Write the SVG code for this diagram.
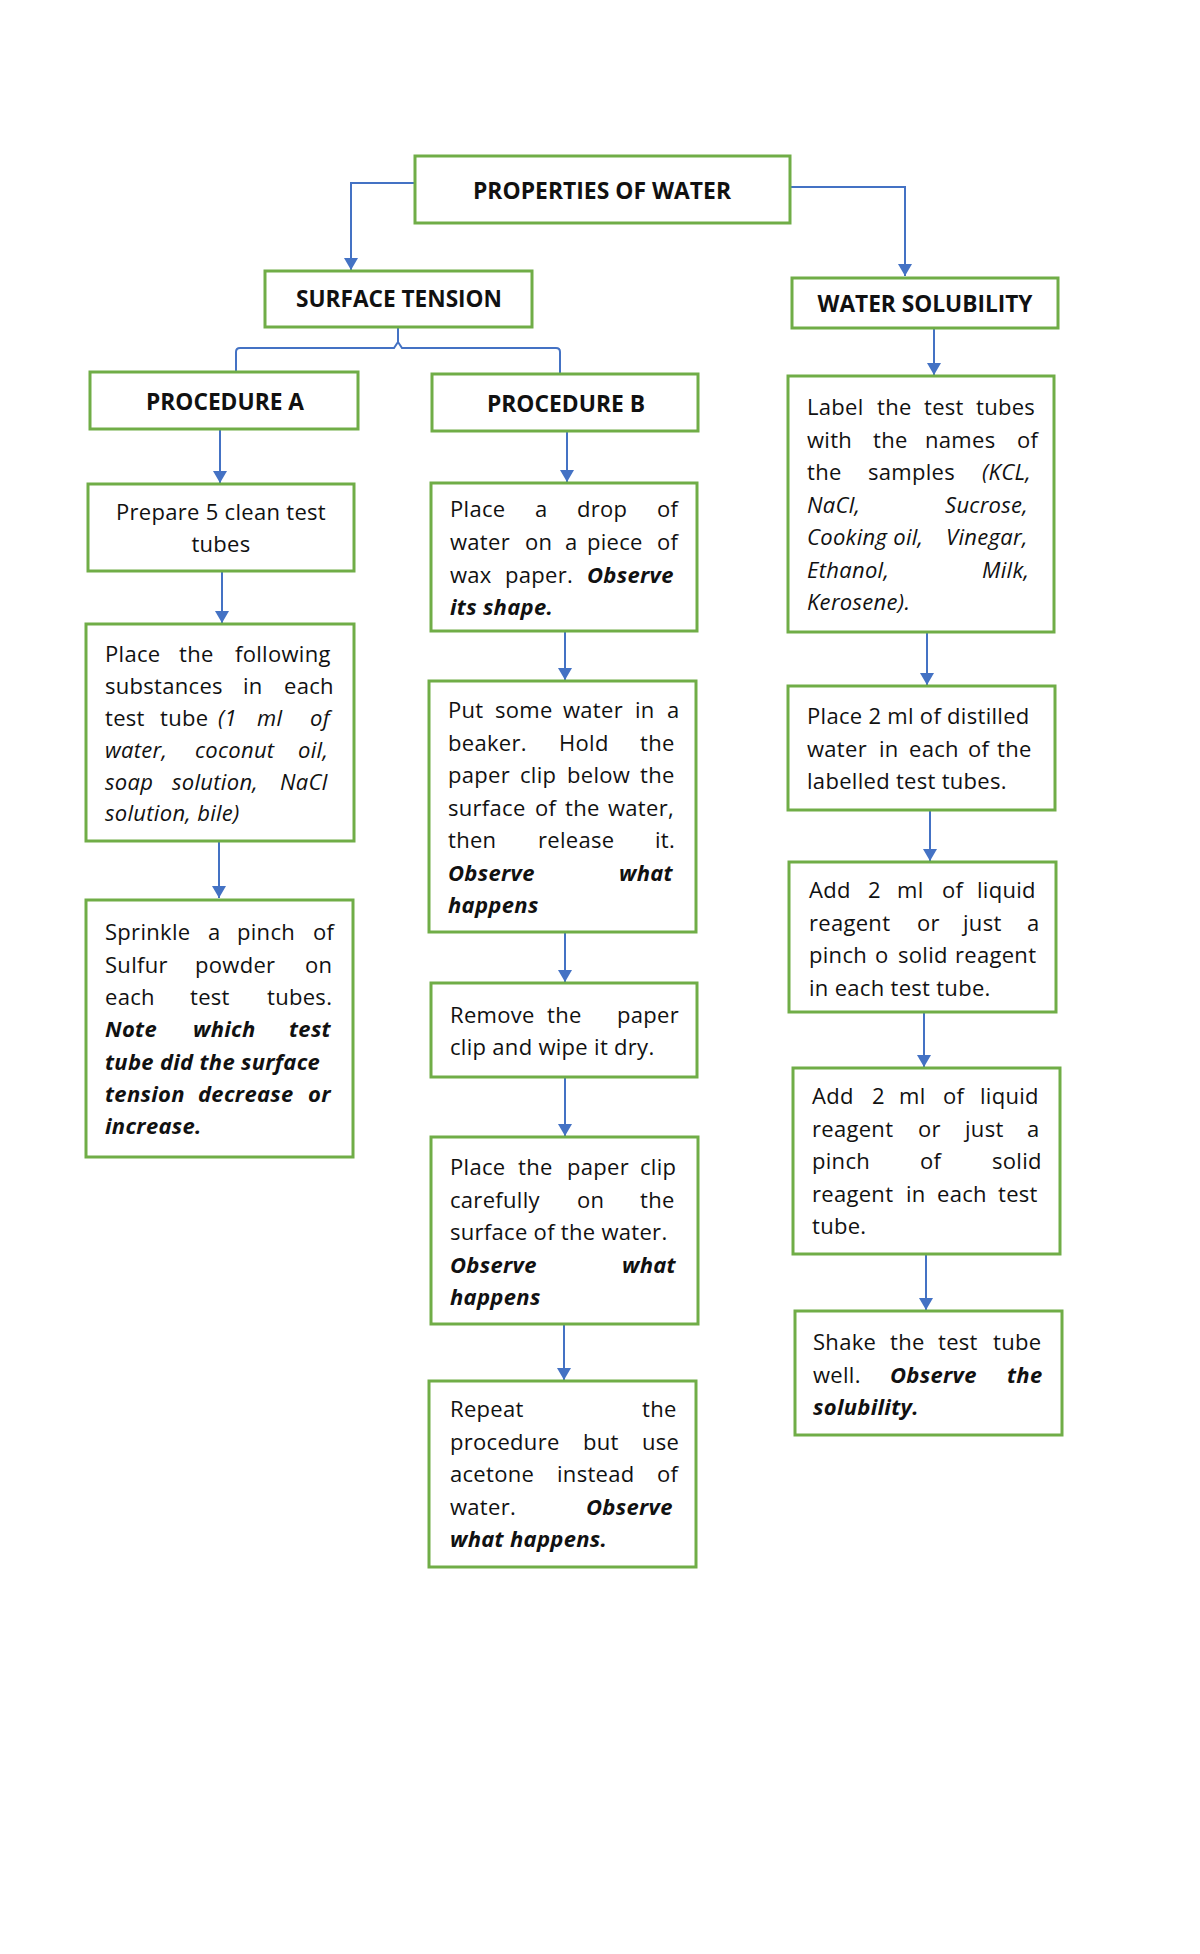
<svg xmlns="http://www.w3.org/2000/svg" width="1200" height="1954" viewBox="0 0 1200 1954">
<style>
.box{fill:#fff;stroke:#70AD47;stroke-width:3}
.t{font-family:"Open Sans","Lato",sans-serif;font-size:22px;fill:#111;letter-spacing:0.3px}
.i{font-style:italic}
.bi{font-style:italic;font-weight:bold}
.title{font-family:"Open Sans","Lato",sans-serif;font-size:24px;font-weight:bold;fill:#111;text-anchor:middle}
.c{fill:none;stroke:#4472C4;stroke-width:2}
</style>
<defs>
<marker id="ah" markerUnits="userSpaceOnUse" markerWidth="14" markerHeight="14" refX="12" refY="7" orient="auto">
<path d="M0,0 L12,7 L0,14 z" fill="#4472C4"/>
</marker>
</defs>
<rect width="1200" height="1954" fill="#fff"/>
<g id="connectors">
<path class="c" d="M415,183 H351 V270" marker-end="url(#ah)"/>
<path class="c" d="M790,187 H905 V276" marker-end="url(#ah)"/>
<path class="c" d="M398,327 V342 L402,348 H556 Q560,348 560,352 V374"/>
<path class="c" d="M398,342 L394,348 H240 Q236,348 236,352 V372"/>
<path class="c" d="M220,429 V483" marker-end="url(#ah)"/>
<path class="c" d="M222,571 V623" marker-end="url(#ah)"/>
<path class="c" d="M219,841 V898" marker-end="url(#ah)"/>
<path class="c" d="M567,431 V482" marker-end="url(#ah)"/>
<path class="c" d="M565,631 V680" marker-end="url(#ah)"/>
<path class="c" d="M565,932 V982" marker-end="url(#ah)"/>
<path class="c" d="M565,1077 V1136" marker-end="url(#ah)"/>
<path class="c" d="M564,1324 V1380" marker-end="url(#ah)"/>
<path class="c" d="M934,328 V375" marker-end="url(#ah)"/>
<path class="c" d="M927,632 V685" marker-end="url(#ah)"/>
<path class="c" d="M930,810 V861" marker-end="url(#ah)"/>
<path class="c" d="M924,1012 V1067" marker-end="url(#ah)"/>
<path class="c" d="M926,1254 V1310" marker-end="url(#ah)"/>
</g>
<g id="n-properties">
<rect class="box" x="415" y="156" width="375" height="67"/>
<text class="title" x="602" y="199" textLength="258" lengthAdjust="spacingAndGlyphs">PROPERTIES OF WATER</text>
</g>
<g id="n-surface">
<rect class="box" x="265" y="271" width="267" height="56"/>
<text class="title" x="399" y="307" textLength="206" lengthAdjust="spacingAndGlyphs">SURFACE TENSION</text>
</g>
<g id="n-solubility">
<rect class="box" x="792" y="278" width="266" height="50"/>
<text class="title" x="925" y="312" textLength="215" lengthAdjust="spacingAndGlyphs">WATER SOLUBILITY</text>
</g>
<g id="n-procA">
<rect class="box" x="90" y="372" width="268" height="57"/>
<text class="title" x="225" y="410" textLength="158" lengthAdjust="spacingAndGlyphs">PROCEDURE A</text>
</g>
<g id="n-procB">
<rect class="box" x="432" y="374" width="266" height="57"/>
<text class="title" x="566" y="412" textLength="158" lengthAdjust="spacingAndGlyphs">PROCEDURE B</text>
</g>
<g id="n-prepare">
<rect class="box" x="88" y="484" width="266" height="87"/>
<text class="t" text-anchor="middle"><tspan x="221" y="520">Prepare 5 clean test</tspan><tspan x="221" y="552">tubes</tspan></text>
</g>
<g id="n-place-following">
<rect class="box" x="86" y="624" width="268" height="217"/>
<text class="t">
<tspan x="105" y="662">Place</tspan><tspan x="179" y="662">the</tspan><tspan x="235" y="662">following</tspan>
<tspan x="105" y="694">substances</tspan><tspan x="243" y="694">in</tspan><tspan x="284" y="694">each</tspan>
<tspan x="105" y="726">test</tspan><tspan x="160" y="726">tube</tspan><tspan class="i" x="218" y="726">(1</tspan><tspan class="i" x="257" y="726">ml</tspan><tspan class="i" x="310" y="726">of</tspan>
<tspan class="i" x="105" y="757.5">water,</tspan><tspan class="i" x="195" y="757.5">coconut</tspan><tspan class="i" x="298" y="757.5">oil,</tspan>
<tspan class="i" x="105" y="789.5">soap</tspan><tspan class="i" x="172" y="789.5">solution,</tspan><tspan class="i" x="280" y="789.5">NaCl</tspan>
<tspan class="i" x="105" y="821">solution, bile)</tspan>
</text>
</g>
<g id="n-sprinkle">
<rect class="box" x="86" y="900" width="267" height="257"/>
<text class="t">
<tspan x="105" y="940">Sprinkle</tspan><tspan x="208" y="940">a</tspan><tspan x="237" y="940">pinch</tspan><tspan x="313" y="940">of</tspan>
<tspan x="105" y="972.5">Sulfur</tspan><tspan x="195" y="972.5">powder</tspan><tspan x="305" y="972.5">on</tspan>
<tspan x="105" y="1005">each</tspan><tspan x="190" y="1005">test</tspan><tspan x="267" y="1005">tubes.</tspan>
<tspan class="bi" x="105" y="1037">Note</tspan><tspan class="bi" x="193" y="1037">which</tspan><tspan class="bi" x="289" y="1037">test</tspan>
<tspan class="bi" x="105" y="1069.5">tube did the surface</tspan>
<tspan class="bi" x="105" y="1101.5">tension</tspan><tspan class="bi" x="198" y="1101.5">decrease</tspan><tspan class="bi" x="308" y="1101.5">or</tspan>
<tspan class="bi" x="105" y="1134">increase.</tspan>
</text>
</g>
<g id="n-drop">
<rect class="box" x="431" y="483" width="266" height="148"/>
<text class="t">
<tspan x="450" y="517">Place</tspan><tspan x="535" y="517">a</tspan><tspan x="577" y="517">drop</tspan><tspan x="657" y="517">of</tspan>
<tspan x="450" y="550">water</tspan><tspan x="525" y="550">on</tspan><tspan x="565" y="550">a</tspan><tspan x="587" y="550">piece</tspan><tspan x="657" y="550">of</tspan>
<tspan x="450" y="582.5">wax</tspan><tspan x="505" y="582.5">paper.</tspan><tspan class="bi" x="587" y="582.5">Observe</tspan>
<tspan class="bi" x="450" y="615">its shape.</tspan>
</text>
</g>
<g id="n-put">
<rect class="box" x="429" y="681" width="267" height="251"/>
<text class="t">
<tspan x="448" y="718">Put</tspan><tspan x="495" y="718">some</tspan><tspan x="563" y="718">water</tspan><tspan x="635" y="718">in</tspan><tspan x="667" y="718">a</tspan>
<tspan x="448" y="750.5">beaker.</tspan><tspan x="559" y="750.5">Hold</tspan><tspan x="640" y="750.5">the</tspan>
<tspan x="448" y="783">paper</tspan><tspan x="520" y="783">clip</tspan><tspan x="567" y="783">below</tspan><tspan x="640" y="783">the</tspan>
<tspan x="448" y="815.5">surface</tspan><tspan x="535" y="815.5">of</tspan><tspan x="565" y="815.5">the</tspan><tspan x="608" y="815.5">water,</tspan>
<tspan x="448" y="848">then</tspan><tspan x="538" y="848">release</tspan><tspan x="655" y="848">it.</tspan>
<tspan class="bi" x="448" y="880.5">Observe</tspan><tspan class="bi" x="619" y="880.5">what</tspan>
<tspan class="bi" x="448" y="913">happens</tspan>
</text>
</g>
<g id="n-remove">
<rect class="box" x="431" y="983" width="266" height="94"/>
<text class="t">
<tspan x="450" y="1023">Remove</tspan><tspan x="547" y="1023">the</tspan><tspan x="617" y="1023">paper</tspan>
<tspan x="450" y="1055">clip and wipe it dry.</tspan>
</text>
</g>
<g id="n-clip">
<rect class="box" x="431" y="1137" width="267" height="187"/>
<text class="t">
<tspan x="450" y="1175">Place</tspan><tspan x="518" y="1175">the</tspan><tspan x="567" y="1175">paper</tspan><tspan x="640" y="1175">clip</tspan>
<tspan x="450" y="1207.5">carefully</tspan><tspan x="577" y="1207.5">on</tspan><tspan x="640" y="1207.5">the</tspan>
<tspan x="450" y="1240">surface of the water.</tspan>
<tspan class="bi" x="450" y="1272.5">Observe</tspan><tspan class="bi" x="622" y="1272.5">what</tspan>
<tspan class="bi" x="450" y="1305">happens</tspan>
</text>
</g>
<g id="n-repeat">
<rect class="box" x="429" y="1381" width="267" height="186"/>
<text class="t">
<tspan x="450" y="1417">Repeat</tspan><tspan x="642" y="1417">the</tspan>
<tspan x="450" y="1449.5">procedure</tspan><tspan x="583" y="1449.5">but</tspan><tspan x="642" y="1449.5">use</tspan>
<tspan x="450" y="1482">acetone</tspan><tspan x="557" y="1482">instead</tspan><tspan x="657" y="1482">of</tspan>
<tspan x="450" y="1514.5">water.</tspan><tspan class="bi" x="586" y="1514.5">Observe</tspan>
<tspan class="bi" x="450" y="1547">what happens.</tspan>
</text>
</g>
<g id="n-label">
<rect class="box" x="788" y="376" width="266" height="256"/>
<text class="t">
<tspan x="807" y="415">Label</tspan><tspan x="877" y="415">the</tspan><tspan x="924" y="415">test</tspan><tspan x="976" y="415">tubes</tspan>
<tspan x="807" y="447.5">with</tspan><tspan x="873" y="447.5">the</tspan><tspan x="925" y="447.5">names</tspan><tspan x="1017" y="447.5">of</tspan>
<tspan x="807" y="480">the</tspan><tspan x="868" y="480">samples</tspan><tspan class="i" x="982" y="480">(KCL,</tspan>
<tspan class="i" x="807" y="512.5">NaCl,</tspan><tspan class="i" x="945" y="512.5">Sucrose,</tspan>
<tspan class="i" x="807" y="545">Cooking oil,</tspan><tspan class="i" x="946" y="545">Vinegar,</tspan>
<tspan class="i" x="807" y="577.5">Ethanol,</tspan><tspan class="i" x="982" y="577.5">Milk,</tspan>
<tspan class="i" x="807" y="610">Kerosene).</tspan>
</text>
</g>
<g id="n-place2">
<rect class="box" x="788" y="686" width="267" height="124"/>
<text class="t">
<tspan x="807" y="724">Place 2 ml of distilled</tspan>
<tspan x="807" y="756.5">water</tspan><tspan x="879" y="756.5">in</tspan><tspan x="909" y="756.5">each</tspan><tspan x="968" y="756.5">of</tspan><tspan x="997" y="756.5">the</tspan>
<tspan x="807" y="789">labelled test tubes.</tspan>
</text>
</g>
<g id="n-add1">
<rect class="box" x="789" y="862" width="267" height="150"/>
<text class="t">
<tspan x="809" y="898">Add</tspan><tspan x="868" y="898">2</tspan><tspan x="897" y="898">ml</tspan><tspan x="942" y="898">of</tspan><tspan x="977" y="898">liquid</tspan>
<tspan x="809" y="930.5">reagent</tspan><tspan x="917" y="930.5">or</tspan><tspan x="963" y="930.5">just</tspan><tspan x="1027" y="930.5">a</tspan>
<tspan x="809" y="963">pinch</tspan><tspan x="875" y="963">o</tspan><tspan x="898" y="963">solid</tspan><tspan x="955" y="963">reagent</tspan>
<tspan x="809" y="995.5">in each test tube.</tspan>
</text>
</g>
<g id="n-add2">
<rect class="box" x="793" y="1068" width="267" height="186"/>
<text class="t">
<tspan x="812" y="1104">Add</tspan><tspan x="872" y="1104">2</tspan><tspan x="899" y="1104">ml</tspan><tspan x="943" y="1104">of</tspan><tspan x="980" y="1104">liquid</tspan>
<tspan x="812" y="1136.5">reagent</tspan><tspan x="918" y="1136.5">or</tspan><tspan x="965" y="1136.5">just</tspan><tspan x="1027" y="1136.5">a</tspan>
<tspan x="812" y="1169">pinch</tspan><tspan x="920" y="1169">of</tspan><tspan x="992" y="1169">solid</tspan>
<tspan x="812" y="1201.5">reagent</tspan><tspan x="906" y="1201.5">in</tspan><tspan x="937" y="1201.5">each</tspan><tspan x="998" y="1201.5">test</tspan>
<tspan x="812" y="1234">tube.</tspan>
</text>
</g>
<g id="n-shake">
<rect class="box" x="795" y="1311" width="267" height="124"/>
<text class="t">
<tspan x="813" y="1350">Shake</tspan><tspan x="890" y="1350">the</tspan><tspan x="938" y="1350">test</tspan><tspan x="993" y="1350">tube</tspan>
<tspan x="813" y="1382.5">well.</tspan><tspan class="bi" x="890" y="1382.5">Observe</tspan><tspan class="bi" x="1007" y="1382.5">the</tspan>
<tspan class="bi" x="813" y="1415">solubility.</tspan>
</text>
</g>
</svg>
